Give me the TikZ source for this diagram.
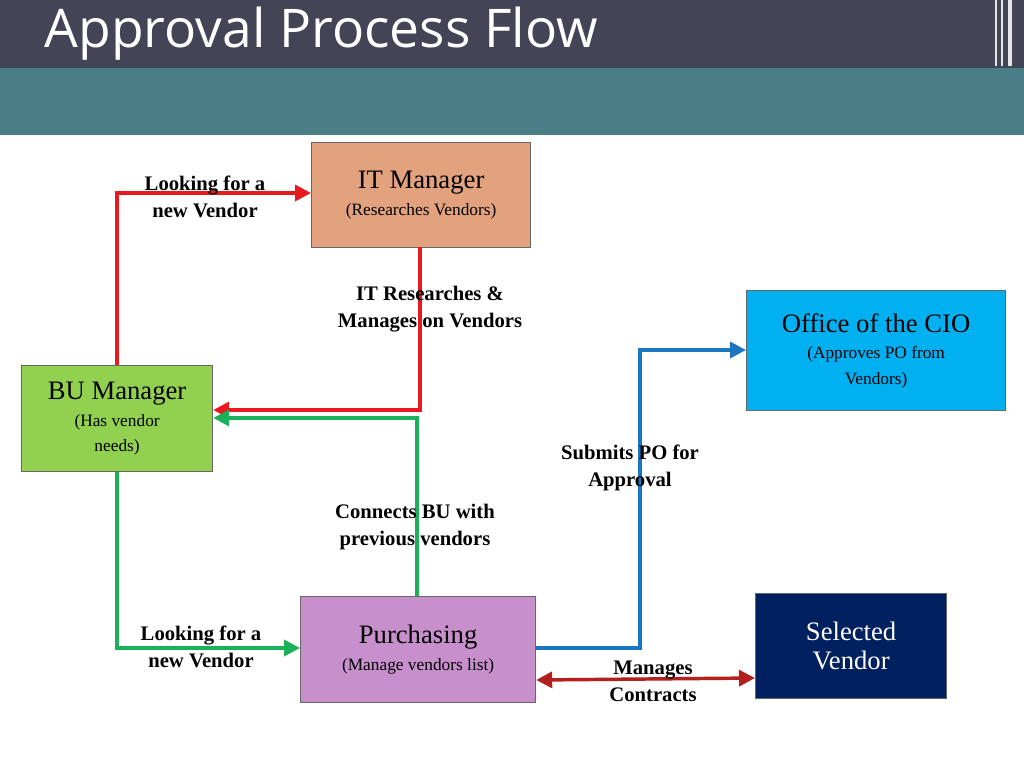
\documentclass[tikz,border=0pt]{standalone}
\usepackage{fontspec}
\setmainfont{Liberation Serif}
\newfontfamily\titlefont{Open Sans}
\usetikzlibrary{calc}
\usetikzlibrary{arrows.meta}
\usetikzlibrary{positioning}
\definecolor{barDark}{HTML}{434456}
\definecolor{barTeal}{HTML}{4A7E86}
\definecolor{itFill}{HTML}{E3A27E}
\definecolor{cioFill}{HTML}{00B0F0}
\definecolor{buFill}{HTML}{92D050}
\definecolor{purFill}{HTML}{C78FCC}
\definecolor{venFill}{HTML}{002060}
\definecolor{redLine}{HTML}{E8191F}
\definecolor{greenLine}{HTML}{1BB05A}
\definecolor{blueLine}{HTML}{1A76C0}
\definecolor{darkRed}{HTML}{B3201E}
\newcommand\subtxt{\fontsize{13}{15}\selectfont}

\begin{document}
\begin{tikzpicture}[x=0.75pt, y=-0.75pt,
    box/.style={draw=gray!80!black, line width=0.9pt, anchor=north west,
      align=center, inner sep=0pt, font=\fontsize{20}{22}\selectfont},
    lbl/.style={font=\bfseries\fontsize{15.5}{20}\selectfont, align=center},
    flow/.style={line width=2.6pt, -{Triangle[length=12pt,width=12pt]}}
  ]
  \useasboundingbox (0,0) rectangle (1024,768);
  % header
  \fill[barDark] (0,0) rectangle (1024,68);
  \fill[barTeal] (0,68) rectangle (1024,135);
  \node[anchor=west, text=white, font=\titlefont\fontsize{40}{44}\selectfont] (title) at (40,34) {Approval Process Flow};
  \foreach \xx/\ww in {996/1, 1002/2, 1010/3} {
    \draw[white!80!gray, line width=\ww pt] (\xx,0) -- (\xx,66);
  }

  % boxes
  \node[box, fill=itFill, minimum width=219*0.75pt, minimum height=105*0.75pt] (it) at (311,142)
    {IT Manager\\[-2pt] {\subtxt (Researches Vendors)}};
  \node[box, fill=cioFill, minimum width=259*0.75pt, minimum height=120*0.75pt] (cio) at (746,290)
    {Office of the CIO\\[-2pt] {\subtxt (Approves PO from}\\[-3pt] {\subtxt Vendors)}};
  \node[box, fill=buFill, minimum width=191*0.75pt, minimum height=106*0.75pt] (bu) at (21,365)
    {BU Manager\\[-2pt] {\subtxt (Has vendor}\\[-3pt] {\subtxt needs)}};
  \node[box, fill=purFill, minimum width=235*0.75pt, minimum height=106*0.75pt] (pur) at (300,596)
    {Purchasing\\[-2pt] {\subtxt (Manage vendors list)}};
  \node[box, fill=venFill, text=white, minimum width=191*0.75pt, minimum height=105*0.75pt] (ven) at (755,593)
    {Selected\\ Vendor};

  % bends
  \coordinate (bu_top) at ($(bu.north west)!0.5!(bu.north east)$);
  \coordinate (bu_bot) at ($(bu.south west)!0.5!(bu.south east)$);
  \coordinate (bu_in1) at (bu.east |- 0,410);
  \coordinate (bu_in2) at (bu.east |- 0,418);
  \coordinate (it_out) at (420,247);
  \coordinate (pur_top) at (417,596);
  \coordinate (pur_in) at (pur.west |- 0,648);
  \coordinate (pur_out1) at (pur.east |- 0,648);
  \coordinate (pur_out2) at (pur.east |- 0,680);
  \coordinate (it_in) at (it.west |- 0,193);
  \coordinate (cio_in) at (cio.west |- 0,350);
  \coordinate (ven_in) at (ven.west |- 0,678);

  \draw[flow, redLine] (bu_top) |- (it_in);
  \draw[flow, redLine] (it_out) |- (bu_in1);
  \draw[flow, greenLine] (pur_top) |- (bu_in2);
  \draw[flow, greenLine] (bu_bot) |- (pur_in);
  \draw[flow, blueLine] (pur_out1) -| (640,350) -- (cio_in);
  \draw[line width=2.6pt, darkRed, {Triangle[length=12pt,width=12pt]}-{Triangle[length=12pt,width=12pt]}] (pur_out2) -- (ven_in);

  % labels
  \node[lbl] (l1) at (205,197) {Looking for a\\ new Vendor};
  \node[lbl] (l2) at (430,309) {IT Researches \&\\ Manages on Vendors};
  \node[lbl] (l3) at (415,527) {Connects BU with\\ previous vendors};
  \node[lbl] (l4) at (201,647) {Looking for a\\ new Vendor};
  \node[lbl] (l5) at (630,468) {Submits PO for\\ Approval};
  \node[lbl] (l6) at (653,681) {Manages\\ Contracts};
\end{tikzpicture}
\end{document}
